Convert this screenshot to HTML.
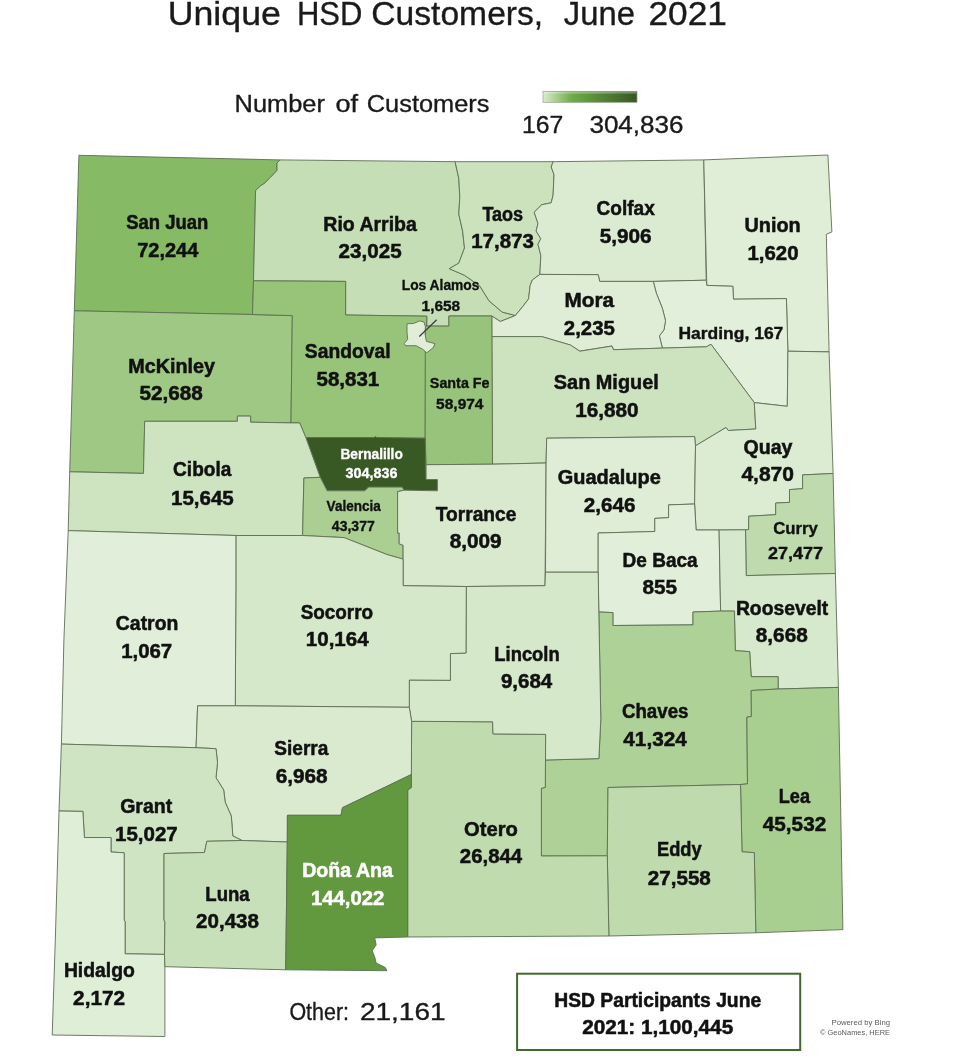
<!DOCTYPE html>
<html lang="en"><head><meta charset="utf-8"><title>Unique HSD Customers, June 2021</title>
<style>
html,body{margin:0;padding:0;background:#fff}
body{width:980px;height:1061px;overflow:hidden;font-family:"Liberation Sans",sans-serif}
svg{display:block}
svg text{font-family:"Liberation Sans",sans-serif}
.c polygon{stroke:#5d6e54;stroke-width:.9;stroke-linejoin:round}
.b text{font-weight:700;font-size:19.5px;fill:#111;stroke:#111;stroke-width:.5px}
.s text{font-weight:700;stroke-width:.35px}
</style></head><body>
<svg width="980" height="1061" viewBox="0 0 980 1061">
<defs><linearGradient id="lg" x1="0" x2="1" y1="0" y2="0"><stop offset="0" stop-color="#dcecd0"/><stop offset="0.3" stop-color="#70ad47"/><stop offset="1" stop-color="#375623"/></linearGradient></defs>
<rect width="980" height="1061" fill="#fff"/>
<text font-size="33.6" fill="#1a1a1a" stroke="#1a1a1a" stroke-width=".35"><tspan x="167.69" y="25" textLength="113.22" lengthAdjust="spacingAndGlyphs">Unique</tspan> <tspan x="296.89" y="25" textLength="65.42" lengthAdjust="spacingAndGlyphs">HSD</tspan> <tspan x="371.29" y="25" textLength="171.92" lengthAdjust="spacingAndGlyphs">Customers,</tspan> <tspan x="563.79" y="25" textLength="71.12" lengthAdjust="spacingAndGlyphs">June</tspan> <tspan x="648.49" y="25" textLength="78.52" lengthAdjust="spacingAndGlyphs">2021</tspan></text>
<text font-size="24.2" fill="#1a1a1a" stroke="#1a1a1a" stroke-width=".35"><tspan x="234.61" y="111.9" textLength="90.28" lengthAdjust="spacingAndGlyphs">Number</tspan> <tspan x="335.51" y="111.9" textLength="22.68" lengthAdjust="spacingAndGlyphs">of</tspan> <tspan x="366.81" y="111.9" textLength="122.68" lengthAdjust="spacingAndGlyphs">Customers</tspan></text>
<rect x="543" y="91.3" width="94" height="11" fill="url(#lg)" stroke="#8fa087" stroke-width=".7"/>
<rect x="543.6" y="92" width="92.8" height="1.6" fill="#fff" opacity=".3"/>
<text font-size="24.4" fill="#1a1a1a" stroke="#1a1a1a" stroke-width=".35"><tspan x="522.1" y="133.3" textLength="41.3" lengthAdjust="spacingAndGlyphs">167</tspan> <tspan x="589.4" y="133.3" textLength="94.2" lengthAdjust="spacingAndGlyphs">304,836</tspan></text>
<g class="c">
<polygon id="san-juan" fill="#87ba64" points="78.9,155.3 280,159.9 277,163 277,170.5 274,173.7 269.5,178.3 265,182.9 260.4,186 255.6,190.5 253.5,280.8 252.5,314.5 74.3,310.8"/>
<polygon id="mckinley" fill="#9fc884" points="74.3,310.8 252.5,314.5 292.3,315.6 291,422.9 250.6,422.2 250.6,416.1 237.4,416.1 237.4,421.3 144.7,421.3 143.5,473.4 69.7,471.8"/>
<polygon id="rio-arriba" fill="#c5deb5" points="280,159.9 277,163 277,170.5 274,173.7 269.5,178.3 265,182.9 260.4,186 255.6,190.5 253.5,280.8 345.6,281.4 345.6,315 426.8,316.2 426.8,326.1 448.9,326.1 448.9,316 491.8,316 500.3,321.5 515.4,315.5 502.2,312.1 489,300.8 479.6,285.7 464.5,275.3 449.4,268.7 458.8,263.1 464.5,248 462.6,231 458.8,214.1 459.8,197.1 458.8,178.3 455.1,161.7"/>
<polygon id="taos" fill="#cce2bd" points="455.1,161.7 458.8,178.3 459.8,197.1 458.8,214.1 462.6,231 464.5,248 458.8,263.1 449.4,268.7 464.5,275.3 479.6,285.7 489,300.8 502.2,312.1 515.4,315.5 522.9,306.4 528.6,298.9 530.1,285.7 532.3,280 539.9,274.4 540.8,255.5 538,244.2 540.8,238.6 536.1,231 538,223.5 534.2,212.2 541.8,204.7 551.2,202.8 553.1,195.2 554,174.5 551.2,167 553.1,161.7"/>
<polygon id="colfax" fill="#dbebd1" points="553.1,161.7 703.8,159.9 706.2,280.2 653.3,281.4 599.7,281.4 598.2,274.7 539.9,274.4 540.8,255.5 538,244.2 540.8,238.6 536.1,231 538,223.5 534.2,212.2 541.8,204.7 551.2,202.8 553.1,195.2 554,174.5 551.2,167 553.1,161.7"/>
<polygon id="union" fill="#e0eed8" points="703.8,159.9 827.9,155 831.9,231.9 826.3,234.3 829.1,351.9 787.9,351.2 786.4,298.6 733.5,299.2 732.8,286.3 706.8,285.4"/>
<polygon id="harding" fill="#e2efda" points="653.3,281.4 706.2,280.2 706.8,285.4 732.8,286.3 733.5,299.2 786.4,298.6 787.9,351.2 787.3,406.3 754.3,402.6 711,344.3 706.4,346.8 662.4,348.1 659.4,335.9 664,329.8 665.5,320.6 662.4,308.4 656.3,293.1 653.3,281.4"/>
<polygon id="mora" fill="#dfedd7" points="539.9,274.4 598.2,274.7 599.7,281.4 653.3,281.4 656.3,293.1 662.4,308.4 665.5,320.6 664,329.8 659.4,335.9 662.4,348.1 662.4,348.1 613.5,349.7 612,346 579.8,351.2 570.6,345.1 541.8,336.6 491.8,336.6 491.8,316 500.3,321.5 515.4,315.5 522.9,306.4 528.6,298.9 530.1,285.7 532.3,280 539.9,274.4"/>
<polygon id="san-miguel" fill="#cde3bf" points="491.8,336.6 541.8,336.6 570.6,345.1 579.8,351.2 612,346 613.5,349.7 662.4,348.1 706.4,346.8 711,344.3 754.3,402.6 755.8,429 728.3,430.5 726,427.5 695.5,445.8 694.6,436.6 546.7,438.2 546.1,463 492.5,464.2"/>
<polygon id="sandoval" fill="#98c47a" points="253.5,280.8 345.6,281.4 345.6,315 426.8,316.2 425.5,352.8 425.2,438.2 305.8,437.5 299.7,422.9 291,422.9 292.3,315.6 252.5,314.5"/>
<polygon id="santa-fe" fill="#97c47a" points="425.3,326.1 448.9,326.1 448.9,316 491.8,316 492.5,464.2 426.1,464.7 425.2,438.2"/>
<polygon id="bernalillo" fill="#385824" points="305.8,437.5 374.7,437.5 375.5,436.2 376.5,437.5 425.2,438.2 426.1,479.5 437.4,479.5 437.4,490.8 403.8,490.2 402.2,487.1 368.6,487.1 364.9,490.8 327.2,490.8 320.2,477.3"/>
<polygon id="cibola" fill="#cee4c1" points="144.7,421.3 237.4,421.3 237.4,416.1 250.6,416.1 250.6,422.2 291,422.9 299.7,422.9 305.8,437.5 320.2,477.3 303.9,478 302.6,535.5 235.9,535.5 68.2,530.6 69.7,471.8 143.5,473.4"/>
<polygon id="valencia" fill="#abcf93" points="303.9,478 320.2,477.3 327.2,490.8 364.9,490.8 368.6,487.1 402.2,487.1 403.8,490.2 397.6,491.7 397.6,533 399.2,533 399.2,543.8 403.1,545.3 403.1,559.1 386.9,554.5 344.1,537.6 302.6,535.5"/>
<polygon id="torrance" fill="#d8e9cd" points="426.1,464.7 492.5,464.2 546.1,463 545,585.7 466.3,586.5 403.1,585.7 403.1,559.1 403.1,545.3 399.2,543.8 399.2,533 397.6,533 397.6,491.7 403.8,490.2 437.4,490.8 437.4,479.5 426.1,479.5"/>
<polygon id="guadalupe" fill="#dfedd6" points="546.7,438.2 694.6,436.6 695.5,445.8 694.6,504 668.6,504.9 668.6,517.7 654.8,518.4 654.8,531.5 598.2,533 598.2,572.2 545.5,572.2 546.1,463"/>
<polygon id="quay" fill="#dcecd2" points="695.5,445.8 726,427.5 728.3,430.5 755.8,429 754.3,402.6 787.3,406.3 787.9,351.2 829.1,351.9 833.1,473.5 802.6,474.9 802.6,488.7 789.5,489.6 789.5,502.4 775.7,503 775.7,514.7 748.8,516.2 748.6,529.6 745.5,529.8 719.1,530 696.1,530 694.6,504"/>
<polygon id="curry" fill="#bfdbad" points="833.1,473.5 835.4,573.5 746.2,575.6 745.5,529.8 748.6,529.6 748.8,516.2 775.7,514.7 775.7,503 789.5,502.4 789.5,489.6 802.6,488.7 802.6,474.9"/>
<polygon id="de-baca" fill="#e1eed9" points="598.2,533 654.8,531.5 654.8,518.4 668.6,517.7 668.6,504.9 694.6,504 696.1,530 719.1,530 720.6,611.1 693,612 693,624.9 612.9,625.5 612.9,612.6 598.8,612 598.2,572.2"/>
<polygon id="roosevelt" fill="#d7e9cc" points="719.1,530 745.5,529.8 746.2,575.6 835.4,573.5 838.4,687.4 778.1,689 778.1,676.7 751.2,676.7 749.7,651.6 735.3,650.7 734.4,611.1 720.6,611.1"/>
<polygon id="chaves" fill="#aed197" points="598.8,612 612.9,612.6 612.9,625.5 693,624.9 693,612 720.6,611.1 734.4,611.1 735.3,650.7 749.7,651.6 751.2,676.7 778.1,676.7 778.1,689 751.2,690.5 751.4,716.5 746.9,717.2 747.5,783.9 740.5,784.5 608,787.5 607.3,855.8 541.4,856 541.4,788.2 545.3,787.4 545.5,760 598.9,758.6 600.8,719.2 599.6,653"/>
<polygon id="lea" fill="#a8ce90" points="751.2,690.5 778.1,689 838.4,687.4 842.9,929.6 755.8,932.8 754.3,852.7 742,851.8 740.5,784.5 747.5,783.9 746.9,717.2 751.4,716.5"/>
<polygon id="eddy" fill="#bfdbad" points="608,787.5 740.5,784.5 742,851.8 754.3,852.7 755.8,932.8 608.9,936 607.3,855.8"/>
<polygon id="otero" fill="#c0dbae" points="411.6,721.3 492.6,721.8 493,733.9 545.7,734.4 545.5,760 545.3,787.4 541.4,788.2 541.4,856 607.3,855.8 608.9,936 407.7,937 407.7,790 411.4,787.5 411.4,774.5"/>
<polygon id="lincoln" fill="#d6e8ca" points="466.3,586.5 545,585.7 545.5,572.2 598.2,572.2 598.8,612 599.6,653 600.8,719.2 598.9,758.6 545.5,760 545.7,734.4 493,733.9 492.6,721.8 411.6,721.3 409.3,707.3 409.3,680 450.4,680.3 450.4,653.6 466,653"/>
<polygon id="socorro" fill="#d5e8ca" points="235.9,535.5 302.6,535.5 344.1,537.6 386.9,554.5 403.1,559.1 403.1,585.7 466.3,586.5 466,653 450.4,653.6 450.4,680.3 409.3,680 409.3,707.3 235.3,705.8 235.9,585.1"/>
<polygon id="catron" fill="#e1eed9" points="68.2,530.6 235.9,535.5 235.9,585.1 235.3,705.8 197.6,705.8 196.1,747.7 61.4,744.1 63.9,640"/>
<polygon id="sierra" fill="#d9eacf" points="197.6,705.8 235.3,705.8 409.3,707.3 411.6,721.3 411.4,774.5 342.5,807.7 341,815.3 287.4,815.3 287.3,842 242,840.5 232.8,835.9 231.3,816 225.2,802.2 223.7,790 216,777.7 217.5,762.4 216,748.7 196.1,747.7"/>
<polygon id="grant" fill="#cfe4c2" points="61.4,744.1 196.1,747.7 216,748.7 217.5,762.4 216,777.7 223.7,790 225.2,802.2 231.3,816 232.8,835.9 242,840.5 206.8,841.3 204.5,852.5 164,853.5 164,920 164.9,921.7 164.5,954.4 125.1,953.8 125.1,921.7 124.2,920 124.2,852.8 111,852 111,837.5 84.4,837.5 82.9,811.4 59,811"/>
<polygon id="hidalgo" fill="#dfeed7" points="59,811 82.9,811.4 84.4,837.5 111,837.5 111,852 124.2,852.8 124.2,920 125.1,921.7 125.1,953.8 164.5,954.4 164.9,966.7 164.9,1036.5 52.2,1035 55.3,940"/>
<polygon id="luna" fill="#c8e0b9" points="164,853.5 204.5,852.5 206.8,841.3 242,840.5 287.3,842 285.7,969.8 164.9,966.7 164.5,954.4 164.9,921.7 164,920"/>
<polygon id="dona-ana" fill="#62983e" points="287.4,815.3 341,815.3 342.5,807.7 411.4,774.5 411.4,787.5 407.7,790 407.7,937 374.7,937.9 376.2,944.7 372.2,950.8 374.7,956.9 376.2,963 385.4,967.6 386.9,970.7 285.7,969.8 287.3,842"/>
<polygon id="los-alamos" fill="#e0eed8" points="407,323.7 413.4,323.5 419.8,320.9 424,322 425.4,326.6 425,333.6 426.4,341.4 434.9,343.6 433.2,347.8 426.8,352.7 422.6,349.2 416.2,345.7 405.6,345.7 404.2,343.6 407.7,339.3 407,332.2"/>
</g>
<line x1="436.7" y1="319.8" x2="419.3" y2="336.5" stroke="#3a3a3a" stroke-width="1.2"/>
<g class="b">
<text><tspan x="126.3" y="229" textLength="82" lengthAdjust="spacingAndGlyphs">San Juan</tspan> <tspan x="137.2" y="256.9" textLength="61.2" lengthAdjust="spacingAndGlyphs">72,244</tspan></text>
<text><tspan x="128.15" y="372.6" textLength="86.9" lengthAdjust="spacingAndGlyphs">McKinley</tspan> <tspan x="139.55" y="400.2" textLength="63.3" lengthAdjust="spacingAndGlyphs">52,688</tspan></text>
<text><tspan x="323.3" y="230.9" textLength="93.6" lengthAdjust="spacingAndGlyphs">Rio Arriba</tspan> <tspan x="338.6" y="258.4" textLength="63" lengthAdjust="spacingAndGlyphs">23,025</tspan></text>
<text><tspan x="482.45" y="220.8" textLength="40.7" lengthAdjust="spacingAndGlyphs">Taos</tspan> <tspan x="471.15" y="248.3" textLength="62.7" lengthAdjust="spacingAndGlyphs">17,873</tspan></text>
<text><tspan x="304.85" y="357.9" textLength="85.7" lengthAdjust="spacingAndGlyphs">Sandoval</tspan> <tspan x="316.5" y="385.5" textLength="62.8" lengthAdjust="spacingAndGlyphs">58,831</tspan></text>
<text><tspan x="596.6" y="214.6" textLength="58.2" lengthAdjust="spacingAndGlyphs">Colfax</tspan> <tspan x="599.7" y="243.1" textLength="52" lengthAdjust="spacingAndGlyphs">5,906</tspan></text>
<text><tspan x="744.45" y="232.4" textLength="56.3" lengthAdjust="spacingAndGlyphs">Union</tspan> <tspan x="747.45" y="260" textLength="51.1" lengthAdjust="spacingAndGlyphs">1,620</tspan></text>
<text><tspan x="564.5" y="307.4" textLength="49.6" lengthAdjust="spacingAndGlyphs">Mora</tspan> <tspan x="563.85" y="335" textLength="51.1" lengthAdjust="spacingAndGlyphs">2,235</tspan></text>
<text><tspan x="553.8" y="388.9" textLength="105" lengthAdjust="spacingAndGlyphs">San Miguel</tspan> <tspan x="575.2" y="417.3" textLength="63.4" lengthAdjust="spacingAndGlyphs">16,880</tspan></text>
<text><tspan x="557.75" y="484.1" textLength="103.1" lengthAdjust="spacingAndGlyphs">Guadalupe</tspan> <tspan x="583.75" y="512.2" textLength="51.7" lengthAdjust="spacingAndGlyphs">2,646</tspan></text>
<text><tspan x="743.5" y="454.1" textLength="49" lengthAdjust="spacingAndGlyphs">Quay</tspan> <tspan x="741.4" y="481" textLength="52.6" lengthAdjust="spacingAndGlyphs">4,870</tspan></text>
<text><tspan x="622.6" y="566.7" textLength="75" lengthAdjust="spacingAndGlyphs">De Baca</tspan> <tspan x="642.5" y="593.9" textLength="34.6" lengthAdjust="spacingAndGlyphs">855</tspan></text>
<text><tspan x="735.9" y="614.8" textLength="92.4" lengthAdjust="spacingAndGlyphs">Roosevelt</tspan> <tspan x="755.8" y="642.3" textLength="52" lengthAdjust="spacingAndGlyphs">8,668</tspan></text>
<text><tspan x="435.85" y="520.8" textLength="80.5" lengthAdjust="spacingAndGlyphs">Torrance</tspan> <tspan x="449.7" y="548.3" textLength="52" lengthAdjust="spacingAndGlyphs">8,009</tspan></text>
<text><tspan x="300.65" y="619.4" textLength="72.5" lengthAdjust="spacingAndGlyphs">Socorro</tspan> <tspan x="305.8" y="646.3" textLength="62.8" lengthAdjust="spacingAndGlyphs">10,164</tspan></text>
<text><tspan x="173.1" y="476.1" textLength="58.2" lengthAdjust="spacingAndGlyphs">Cibola</tspan> <tspan x="171" y="504.6" textLength="62.8" lengthAdjust="spacingAndGlyphs">15,645</tspan></text>
<text><tspan x="115.85" y="630.1" textLength="62.5" lengthAdjust="spacingAndGlyphs">Catron</tspan> <tspan x="121.15" y="658.2" textLength="51.1" lengthAdjust="spacingAndGlyphs">1,067</tspan></text>
<text><tspan x="120.2" y="813.1" textLength="52" lengthAdjust="spacingAndGlyphs">Grant</tspan> <tspan x="115.05" y="841.1" textLength="62.7" lengthAdjust="spacingAndGlyphs">15,027</tspan></text>
<text><tspan x="274.25" y="755.4" textLength="54.1" lengthAdjust="spacingAndGlyphs">Sierra</tspan> <tspan x="275.7" y="782.9" textLength="52" lengthAdjust="spacingAndGlyphs">6,968</tspan></text>
<text><tspan x="205.3" y="901.4" textLength="44.4" lengthAdjust="spacingAndGlyphs">Luna</tspan> <tspan x="196.1" y="928.3" textLength="62.8" lengthAdjust="spacingAndGlyphs">20,438</tspan></text>
<text><tspan x="464.1" y="835.9" textLength="53.8" lengthAdjust="spacingAndGlyphs">Otero</tspan> <tspan x="459.8" y="863.4" textLength="62.4" lengthAdjust="spacingAndGlyphs">26,844</tspan></text>
<text><tspan x="494.3" y="660.5" textLength="65.4" lengthAdjust="spacingAndGlyphs">Lincoln</tspan> <tspan x="500.9" y="688.4" textLength="51.4" lengthAdjust="spacingAndGlyphs">9,684</tspan></text>
<text><tspan x="621.95" y="717.7" textLength="66.5" lengthAdjust="spacingAndGlyphs">Chaves</tspan> <tspan x="623.3" y="745.6" textLength="63.6" lengthAdjust="spacingAndGlyphs">41,324</tspan></text>
<text><tspan x="778.8" y="803.3" textLength="31.2" lengthAdjust="spacingAndGlyphs">Lea</tspan> <tspan x="762.8" y="831.4" textLength="63.4" lengthAdjust="spacingAndGlyphs">45,532</tspan></text>
<text><tspan x="656.95" y="856.4" textLength="44.7" lengthAdjust="spacingAndGlyphs">Eddy</tspan> <tspan x="647.75" y="884.6" textLength="63.1" lengthAdjust="spacingAndGlyphs">27,558</tspan></text>
<text><tspan x="63.9" y="977.4" textLength="71" lengthAdjust="spacingAndGlyphs">Hidalgo</tspan> <tspan x="73.1" y="1004.9" textLength="52" lengthAdjust="spacingAndGlyphs">2,172</tspan></text>
<text style="fill:#fff;stroke:#fff"><tspan x="302.15" y="876.9" textLength="90.9" lengthAdjust="spacingAndGlyphs">Doña Ana</tspan> <tspan x="310.95" y="904.5" textLength="73.5" lengthAdjust="spacingAndGlyphs">144,022</tspan></text>
</g>
<g class="s">
<text font-size="15" fill="#111" stroke="#111"><tspan x="401.7" y="289.9" textLength="77.8" lengthAdjust="spacingAndGlyphs">Los Alamos</tspan> <tspan x="421.6" y="310.5" textLength="38.6" lengthAdjust="spacingAndGlyphs">1,658</tspan></text>
<text font-size="15" fill="#111" stroke="#111"><tspan x="429.85" y="388.4" textLength="59.7" lengthAdjust="spacingAndGlyphs">Santa Fe</tspan> <tspan x="436.1" y="409.1" textLength="47.4" lengthAdjust="spacingAndGlyphs">58,974</tspan></text>
<text font-size="16.2" fill="#111" stroke="#111"><tspan x="678.45" y="338.7" textLength="104.9" lengthAdjust="spacingAndGlyphs">Harding, 167</tspan></text>
<text font-size="16.3" fill="#111" stroke="#111"><tspan x="773.25" y="534.3" textLength="44.7" lengthAdjust="spacingAndGlyphs">Curry</tspan> <tspan x="768.05" y="558.9" textLength="55.1" lengthAdjust="spacingAndGlyphs">27,477</tspan></text>
<text font-size="14.8" fill="#111" stroke="#111"><tspan x="326.6" y="511.4" textLength="54.2" lengthAdjust="spacingAndGlyphs">Valencia</tspan> <tspan x="331.85" y="530.9" textLength="42.9" lengthAdjust="spacingAndGlyphs">43,377</tspan></text>
<text font-size="14.8" fill="#fff" stroke="#fff"><tspan x="340.4" y="459" textLength="62.4" lengthAdjust="spacingAndGlyphs">Bernalillo</tspan> <tspan x="345.6" y="478.3" textLength="52" lengthAdjust="spacingAndGlyphs">304,836</tspan></text>
</g>
<text font-size="24.2" fill="#1a1a1a" stroke="#1a1a1a" stroke-width=".35"><tspan x="289.41" y="1019.6" textLength="59.68" lengthAdjust="spacingAndGlyphs">Other:</tspan> <tspan x="359.91" y="1019.6" textLength="85.68" lengthAdjust="spacingAndGlyphs">21,161</tspan></text>
<rect x="517.1" y="973.7" width="283.1" height="76.3" fill="#fff" stroke="#3f6a2c" stroke-width="2"/>
<text font-size="19.5" font-weight="700" fill="#111" stroke="#111" stroke-width=".5"><tspan x="554.2" y="1006.5" textLength="207" lengthAdjust="spacingAndGlyphs">HSD Participants June</tspan> <tspan x="582.2" y="1034" textLength="151" lengthAdjust="spacingAndGlyphs">2021: 1,100,445</tspan></text>
<text font-size="8" fill="#5a5a5a"><tspan x="831.5" y="1025" textLength="58.5" lengthAdjust="spacingAndGlyphs">Powered by Bing</tspan> <tspan x="820" y="1035.3" textLength="70" lengthAdjust="spacingAndGlyphs">© GeoNames, HERE</tspan></text>
</svg>
</body></html>
